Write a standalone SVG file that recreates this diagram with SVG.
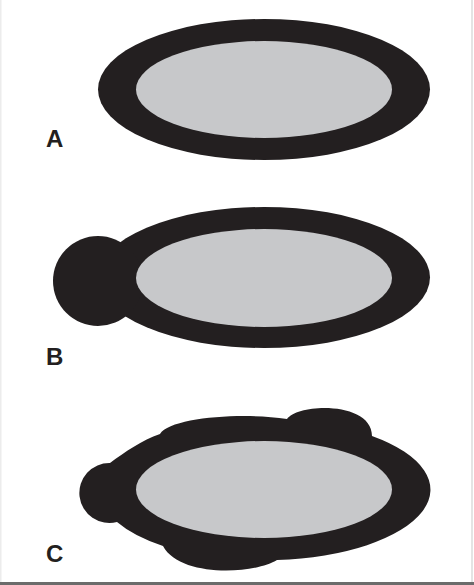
<svg xmlns="http://www.w3.org/2000/svg" width="474" height="585" viewBox="0 0 474 585">
  <style>
    .dark { fill: #231f20; }
    .lumen { fill: #c7c8ca; }
    .label { font-family: "Liberation Sans", Arial, sans-serif; font-weight: bold; font-size: 24px; fill: #231f20; }
  </style>
  <rect x="0" y="0" width="474" height="585" fill="#ffffff"/>
  <rect x="0" y="0" width="1.5" height="585" fill="#ececec"/>
  <rect x="471" y="0" width="2" height="585" fill="#e4e4e4"/>
  <rect x="0" y="582" width="474" height="3" fill="#6b6b6b"/>

  <g id="node-A">
    <ellipse class="dark" cx="264" cy="89.5" rx="166" ry="70.5"/>
    <ellipse class="lumen" cx="264" cy="89.5" rx="128" ry="48.5"/>
    <text class="label" x="46" y="147">A</text>
  </g>

  <g id="node-B">
    <ellipse class="dark" cx="264" cy="277.5" rx="166" ry="70.5"/>
    <circle class="dark" cx="98" cy="281" r="45"/>
    <ellipse class="lumen" cx="264" cy="278" rx="128" ry="49"/>
    <text class="label" x="46" y="365">B</text>
  </g>

  <g id="node-C">
    <path class="dark" d="M 372,436 A 166 70.5 0 0 1 277,560 C 255,574 180,578 163,546 A 166 70.5 0 0 1 117,522 A 30 30 0 1 1 110,463 C 125,452 142,440 160,434 C 170,418 240,412 287,419 C 298,403 372,401 372,436 Z"/>
    <ellipse class="lumen" cx="264" cy="489.5" rx="128" ry="48.5"/>
    <text class="label" x="46" y="562">C</text>
  </g>

  <g id="connectors"></g>
</svg>
